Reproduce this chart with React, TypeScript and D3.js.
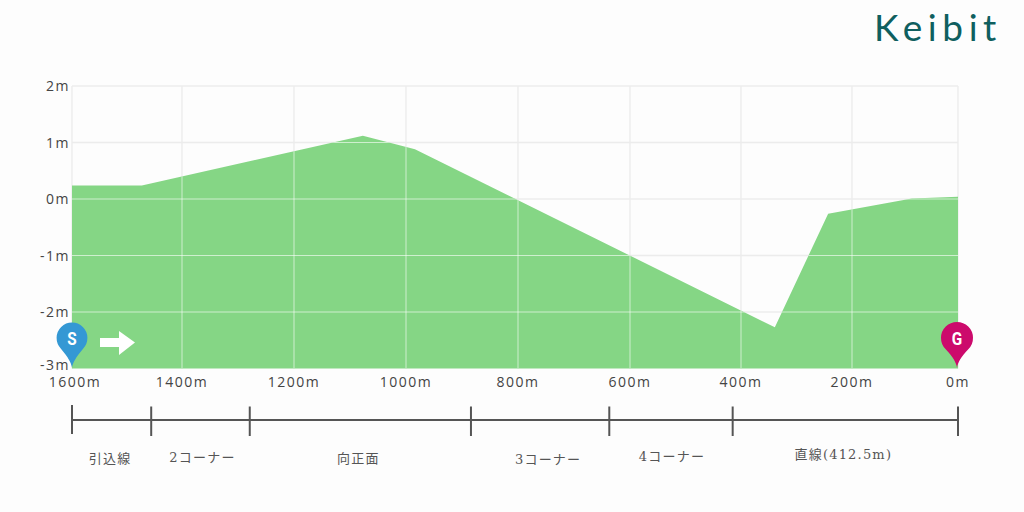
import React from "react";
import * as d3 from "d3";

const distances = [1600, 1473, 1077, 984, 339, 243, 87, 0];
const elevations = [0.24, 0.24, 1.12, 0.88, -2.27, -0.26, 0.01, 0.04];
const xTicks = [1600, 1400, 1200, 1000, 800, 600, 400, 200, 0];
const yTicks = [2, 1, 0, -1, -2, -3];
const sectionBounds = [1600, 1456, 1279, 884, 637, 415, 0];
const sectionNames = ["引込線", "2コーナー", "向正面", "3コーナー", "4コーナー", "直線(412.5m)"];

const W = 1024, H = 512;
const xGridPx = [72, 182, 294, 406, 518, 630, 741, 852, 958];
const labelDx = [-1.5, 2, -2, 8, 1, -2];
const labelY = [458, 457, 458, 459, 456, 454];

const x = d3.scaleLinear().domain(xTicks).range(xGridPx);
const y = d3.scaleLinear().domain([-3, 2]).range([368.5, 86]);

const area = d3.area<number>()
  .x((d) => x(d))
  .y0(y(-3))
  .y1((_, i) => y(elevations[i]));

const pin = (r: number) => {
  const cy = -29.5;
  const px = r * 0.72;
  const py = cy + r * 0.69;
  return `M0,0 C-1,-5 -3.5,-10 ${-px},${py} A${r},${r} 0 1 1 ${px},${py} C3.5,-10 1,-5 0,0 Z`;
};

const axisFont = "'Open Sans', 'Noto Sans', sans-serif";
const sectionFont = "'DejaVu Serif', 'Noto Sans CJK JP', serif";

export default function App() {
  const x0 = x(1600);
  const x1 = x(0);
  const base = y(-3);
  const areaPath = area(distances) ?? "";
  return (
    <svg width={W} height={H} viewBox={`0 0 ${W} ${H}`} style={{ position: "absolute", left: 0, top: 0, display: "block" }}>
      <defs>
        <clipPath id="fill-clip"><path d={areaPath} /></clipPath>
      </defs>
      <rect width={W} height={H} fill="#fdfdfd" />
      <g stroke="#ececec" strokeWidth={1.3}>
        {xTicks.map((t) => <line key={t} x1={x(t)} x2={x(t)} y1={y(2)} y2={base} />)}
        {yTicks.slice(0, -1).map((t) => <line key={t} x1={x0} x2={x1} y1={y(t)} y2={y(t)} />)}
      </g>
      <path d={areaPath} fill="#85d685" />
      <g stroke="#ffffff" strokeOpacity={0.6} strokeWidth={1} clipPath="url(#fill-clip)">
        {xTicks.slice(1, -1).map((t) => <line key={t} x1={x(t)} x2={x(t)} y1={y(2)} y2={base} />)}
        {yTicks.slice(1, -1).map((t) => <line key={t} x1={x0} x2={x1} y1={y(t)} y2={y(t)} />)}
      </g>
      <g fontFamily={axisFont} fontSize={14} fill="#444" textAnchor="end" letterSpacing={1.5}>
        {yTicks.map((t) => (
          <text key={t} x={70} y={t === -3 ? 370 : y(t) + 5}>{`${t}m`}</text>
        ))}
      </g>
      <g fontFamily={axisFont} fontSize={14} fill="#444" textAnchor="middle" letterSpacing={1.5}>
        {xTicks.map((t) => (
          <text key={t} x={t === 1600 ? x(t) + 3 : x(t)} y={387}>{`${t}m`}</text>
        ))}
      </g>
      <g stroke="#555" strokeWidth={2}>
        <line x1={x0} x2={x1} y1={420} y2={420} />
        {sectionBounds.map((b) => (
          <line key={b} x1={x(b)} x2={x(b)} y1={b === 1600 ? 405 : 406.5} y2={b === 1600 ? 434 : 436} />
        ))}
      </g>
      <g fontFamily={sectionFont} fontSize={13} fill="#555" textAnchor="middle" letterSpacing={1.2}>
        {sectionNames.map((n, i) => (
          <text key={n} x={(x(sectionBounds[i]) + x(sectionBounds[i + 1])) / 2 + labelDx[i]} y={labelY[i] + 4.5}>{n}</text>
        ))}
      </g>
      <g transform={`translate(${x0},${base - 1})`}>
        <path d={pin(15.4)} fill="#3498d4" />
        <text x={0} y={-23} textAnchor="middle" fontFamily="Roboto, sans-serif" fontWeight={700} fontSize={18} fill="#fff" transform="scale(0.85,1)">S</text>
        <path d="M28,-29.5 H47 V-36.5 L63,-25 L47,-12.5 V-20.5 H28 Z" fill="#fff" />
      </g>
      <g transform={`translate(${x1 - 1},${base - 1})`}>
        <path d={pin(16)} fill="#cc0a6c" />
        <text x={0} y={-22.5} textAnchor="middle" fontFamily="Roboto, sans-serif" fontWeight={700} fontSize={18} fill="#fff" transform="scale(0.85,1)">G</text>
      </g>
      <text x={874} y={41} fontFamily="Lato, sans-serif" fontWeight={400} fontSize={37} letterSpacing={5.6} fill="#0f5f5f">Keibit</text>
    </svg>
  );
}
